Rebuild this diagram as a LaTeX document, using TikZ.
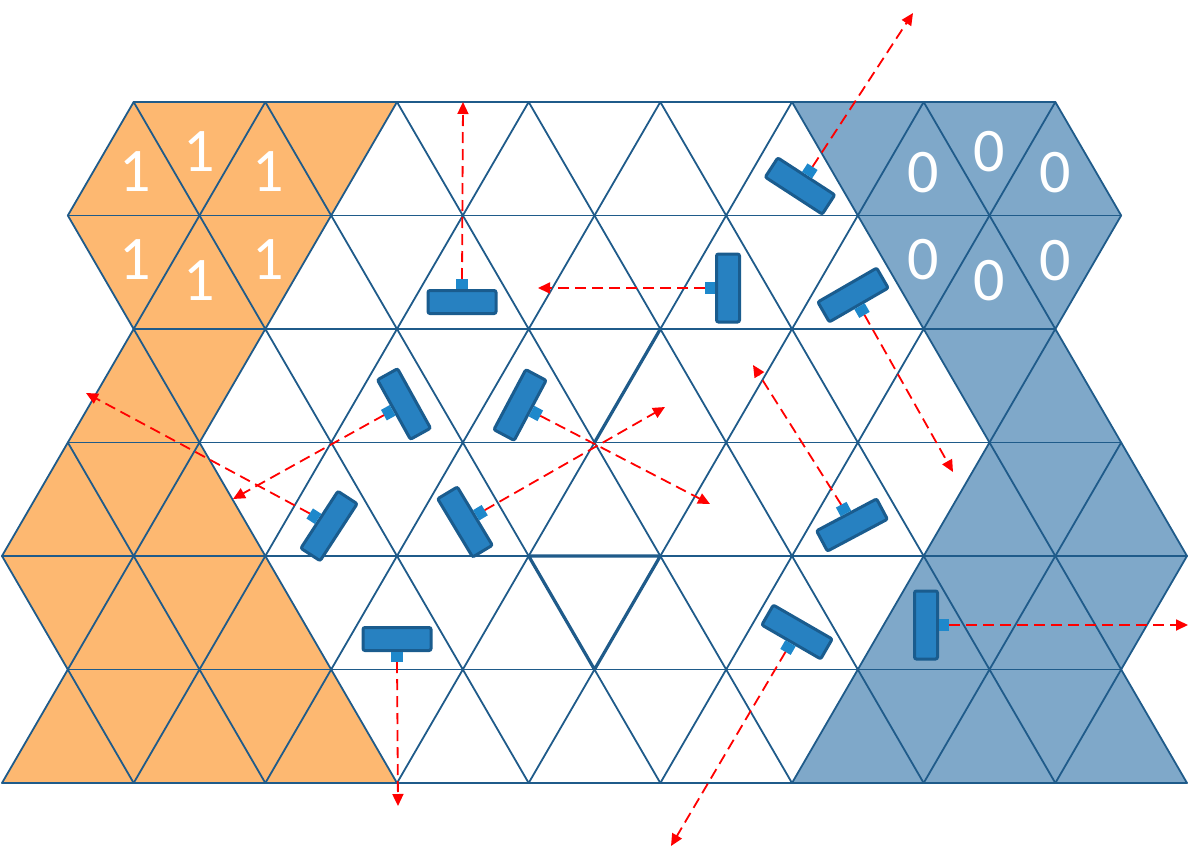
\documentclass[tikz,border=0pt]{standalone}
\usepackage{fontspec}
\setmainfont{Carlito}
\usetikzlibrary{arrows.meta}
\definecolor{gridline}{HTML}{1F5B8A}
\definecolor{orangefill}{HTML}{FDB871}
\definecolor{bluefill}{HTML}{7FA8C9}
\definecolor{robotfill}{HTML}{2781C1}
\definecolor{robotedge}{HTML}{1A5C8E}
\definecolor{sensorfill}{HTML}{1E88CB}
\definecolor{rayred}{HTML}{FF0000}
\tikzset{
  gridedge/.style={draw=gridline, line width=1.8pt, line join=round, line cap=round},
  thickedge/.style={draw=gridline, line width=3.2pt, line join=round, line cap=round},
  robotbody/.style={rectangle, minimum width=23pt, minimum height=68pt, inner sep=0pt,
    fill=robotfill, draw=robotedge, line width=3pt, rounded corners=2pt},
  sensorbox/.style={rectangle, minimum width=10pt, minimum height=12pt, inner sep=0pt,
    outer sep=0pt, fill=sensorfill},
  ray/.style={draw=rayred, line width=1.8pt, dash pattern=on 11pt off 6pt,
    -{Triangle[length=12pt,width=11pt]}},
  digit/.style={text=white, font=\fontsize{62}{62}\selectfont, inner sep=0pt},
}
\newcommand\robot[4]{%
  \node[robotbody, rotate=#3] (#1) at (#2) {};
  \node[sensorbox, rotate=#3, anchor=west] (#1s) at (#1.east) {};
  \coordinate (#1e) at (#4);
  \draw[ray] (#1s.east) -- (#1e);
}
\begin{document}
\begin{tikzpicture}[x=1pt,y=-1pt]
\useasboundingbox (0,0) rectangle (1200,859);
\begin{scope}[shift={(2,102)}, x=65.833pt, y=-113.5pt]
  % coloured regions
  \fill[orangefill] (2,0) -- (6,0) -- (5,1) -- (4,2) -- (3,3) -- (4,4) -- (5,5) -- (6,6)
     -- (0,6) -- (1,5) -- (0,4) -- (1,3) -- (2,2) -- (1,1) -- cycle;
  \fill[bluefill] (12,0) -- (16,0) -- (17,1) -- (16,2) -- (17,3) -- (18,4) -- (17,5) -- (18,6)
     -- (12,6) -- (13,5) -- (14,4) -- (15,3) -- (14,2) -- (13,1) -- cycle;
  % horizontal lines
  \draw[gridedge] (2,0) -- (16,0);
  \draw[gridedge] (1,1) -- (17,1);
  \draw[gridedge] (2,2) -- (16,2);
  \draw[gridedge] (1,3) -- (17,3);
  \draw[gridedge] (0,4) -- (18,4);
  \draw[gridedge] (1,5) -- (17,5);
  \draw[gridedge] (0,6) -- (18,6);
  % diagonals
  \foreach \k in {2,4,...,16} {
    \draw[gridedge] (\k-1,1) -- (\k,0) -- (\k+1,1);
    \draw[gridedge] (\k-1,1) -- (\k,2) -- (\k+1,1);
    \draw[gridedge] (\k-1,3) -- (\k,2) -- (\k+1,3);
  }
  \foreach \k in {1,3,...,17} {
    \draw[gridedge] (\k-1,4) -- (\k,3) -- (\k+1,4);
    \draw[gridedge] (\k-1,4) -- (\k,5) -- (\k+1,4);
    \draw[gridedge] (\k-1,6) -- (\k,5) -- (\k+1,6);
  }
  \draw[thickedge] (8,4) -- (10,4) -- (9,5) -- cycle;
  \draw[thickedge] (10,2) -- (9,3);
\end{scope}
% labels
\node[digit] (o1) at (135,172) {1};
\node[digit] (o2) at (199,152) {1};
\node[digit] (o3) at (268,172) {1};
\node[digit] (o4) at (135,260) {1};
\node[digit] (o5) at (199,281) {1};
\node[digit] (o6) at (268,260) {1};
\node[digit] (z1) at (923,173) {0};
\node[digit] (z2) at (989,152) {0};
\node[digit] (z3) at (1055,173) {0};
\node[digit] (z4) at (923,260) {0};
\node[digit] (z5) at (989,281) {0};
\node[digit] (z6) at (1055,261) {0};
% robots and their rays
\robot{ra}{462,302}{90}{463,102}
\robot{rb}{728,288}{180}{538,288}
\robot{rc}{800,186}{57}{913,13}
\robot{rd}{853,295}{-60}{953,472}
\robot{re}{404,404}{-151}{233,499}
\robot{rf}{520,405}{-28}{710,504}
\robot{rg}{329,526}{147}{86,393}
\robot{rh}{465,522}{31}{665,407}
\robot{ri}{852,525}{118}{753,365}
\robot{rj}{397,639}{-90}{398,806}
\robot{rk}{797,632}{-120}{671,846}
\robot{rl}{926,625}{0}{1188,625}
\end{tikzpicture}
\end{document}
